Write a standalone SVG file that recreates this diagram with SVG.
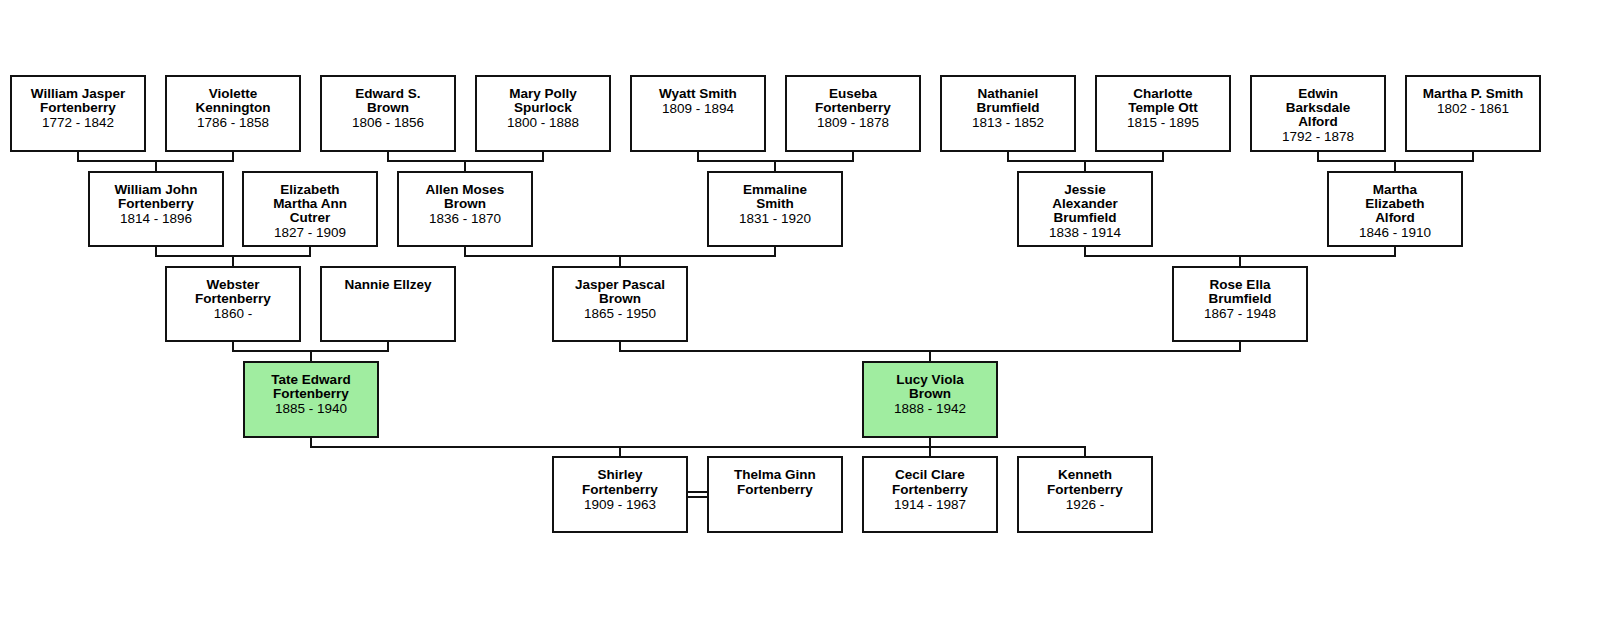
<svg xmlns="http://www.w3.org/2000/svg" width="1600" height="641" viewBox="0 0 1600 641">
<style>
rect{fill:#fff;stroke:#111;stroke-width:2}
.g rect{fill:#a0eda0}
text{font-family:"Liberation Sans",Arial,sans-serif;font-size:13.5px;text-anchor:middle;fill:#000}
.b{font-weight:bold}
#c path{fill:none;stroke:#111;stroke-width:2}
</style>
<rect x="0" y="0" width="1600" height="641" style="fill:#fff;stroke:none"/>
<g id="c">
<path d="M78 151V161H233V151M156 161V172"/>
<path d="M388 151V161H543V151M465 161V172"/>
<path d="M698 151V161H853V151M775 161V172"/>
<path d="M1008 151V161H1163V151M1085 161V172"/>
<path d="M1318 151V161H1473V151M1395 161V172"/>
<path d="M156 246V256H310V246M233 256V267"/>
<path d="M465 246V256H775V246M620 256V267"/>
<path d="M1085 246V256H1395V246M1240 256V267"/>
<path d="M233 341V351H388V341M311 351V362"/>
<path d="M620 341V351H1240V341M930 351V362"/>
<path d="M311 437V447H1085V457M620 447V457M930 437V457"/>
<path d="M687 492H708M687 497H708M687 492V497"/>
</g>
<g id="n1"><rect x="11" y="76" width="134" height="75"/><text x="78" y="98" class="b">William Jasper</text><text x="78" y="112" class="b">Fortenberry</text><text x="78" y="127">1772 - 1842</text></g>
<g id="n2"><rect x="166" y="76" width="134" height="75"/><text x="233" y="98" class="b">Violette</text><text x="233" y="112" class="b">Kennington</text><text x="233" y="127">1786 - 1858</text></g>
<g id="n3"><rect x="321" y="76" width="134" height="75"/><text x="388" y="98" class="b">Edward S.</text><text x="388" y="112" class="b">Brown</text><text x="388" y="127">1806 - 1856</text></g>
<g id="n4"><rect x="476" y="76" width="134" height="75"/><text x="543" y="98" class="b">Mary Polly</text><text x="543" y="112" class="b">Spurlock</text><text x="543" y="127">1800 - 1888</text></g>
<g id="n5"><rect x="631" y="76" width="134" height="75"/><text x="698" y="98" class="b">Wyatt Smith</text><text x="698" y="113">1809 - 1894</text></g>
<g id="n6"><rect x="786" y="76" width="134" height="75"/><text x="853" y="98" class="b">Euseba</text><text x="853" y="112" class="b">Fortenberry</text><text x="853" y="127">1809 - 1878</text></g>
<g id="n7"><rect x="941" y="76" width="134" height="75"/><text x="1008" y="98" class="b">Nathaniel</text><text x="1008" y="112" class="b">Brumfield</text><text x="1008" y="127">1813 - 1852</text></g>
<g id="n8"><rect x="1096" y="76" width="134" height="75"/><text x="1163" y="98" class="b">Charlotte</text><text x="1163" y="112" class="b">Temple Ott</text><text x="1163" y="127">1815 - 1895</text></g>
<g id="n9"><rect x="1251" y="76" width="134" height="75"/><text x="1318" y="98" class="b">Edwin</text><text x="1318" y="112" class="b">Barksdale</text><text x="1318" y="126" class="b">Alford</text><text x="1318" y="141">1792 - 1878</text></g>
<g id="n10"><rect x="1406" y="76" width="134" height="75"/><text x="1473" y="98" class="b">Martha P. Smith</text><text x="1473" y="113">1802 - 1861</text></g>
<g id="n11"><rect x="89" y="172" width="134" height="74"/><text x="156" y="194" class="b">William John</text><text x="156" y="208" class="b">Fortenberry</text><text x="156" y="223">1814 - 1896</text></g>
<g id="n12"><rect x="243" y="172" width="134" height="74"/><text x="310" y="194" class="b">Elizabeth</text><text x="310" y="208" class="b">Martha Ann</text><text x="310" y="222" class="b">Cutrer</text><text x="310" y="237">1827 - 1909</text></g>
<g id="n13"><rect x="398" y="172" width="134" height="74"/><text x="465" y="194" class="b">Allen Moses</text><text x="465" y="208" class="b">Brown</text><text x="465" y="223">1836 - 1870</text></g>
<g id="n14"><rect x="708" y="172" width="134" height="74"/><text x="775" y="194" class="b">Emmaline</text><text x="775" y="208" class="b">Smith</text><text x="775" y="223">1831 - 1920</text></g>
<g id="n15"><rect x="1018" y="172" width="134" height="74"/><text x="1085" y="194" class="b">Jessie</text><text x="1085" y="208" class="b">Alexander</text><text x="1085" y="222" class="b">Brumfield</text><text x="1085" y="237">1838 - 1914</text></g>
<g id="n16"><rect x="1328" y="172" width="134" height="74"/><text x="1395" y="194" class="b">Martha</text><text x="1395" y="208" class="b">Elizabeth</text><text x="1395" y="222" class="b">Alford</text><text x="1395" y="237">1846 - 1910</text></g>
<g id="n17"><rect x="166" y="267" width="134" height="74"/><text x="233" y="289" class="b">Webster</text><text x="233" y="303" class="b">Fortenberry</text><text x="233" y="318">1860 -</text></g>
<g id="n18"><rect x="321" y="267" width="134" height="74"/><text x="388" y="289" class="b">Nannie Ellzey</text></g>
<g id="n19"><rect x="553" y="267" width="134" height="74"/><text x="620" y="289" class="b">Jasper Pascal</text><text x="620" y="303" class="b">Brown</text><text x="620" y="318">1865 - 1950</text></g>
<g id="n20"><rect x="1173" y="267" width="134" height="74"/><text x="1240" y="289" class="b">Rose Ella</text><text x="1240" y="303" class="b">Brumfield</text><text x="1240" y="318">1867 - 1948</text></g>
<g id="n21" class="g"><rect x="244" y="362" width="134" height="75"/><text x="311" y="384" class="b">Tate Edward</text><text x="311" y="398" class="b">Fortenberry</text><text x="311" y="413">1885 - 1940</text></g>
<g id="n22" class="g"><rect x="863" y="362" width="134" height="75"/><text x="930" y="384" class="b">Lucy Viola</text><text x="930" y="398" class="b">Brown</text><text x="930" y="413">1888 - 1942</text></g>
<g id="n23"><rect x="553" y="457" width="134" height="75"/><text x="620" y="479" class="b">Shirley</text><text x="620" y="494" class="b">Fortenberry</text><text x="620" y="509">1909 - 1963</text></g>
<g id="n24"><rect x="708" y="457" width="134" height="75"/><text x="775" y="479" class="b">Thelma Ginn</text><text x="775" y="494" class="b">Fortenberry</text></g>
<g id="n25"><rect x="863" y="457" width="134" height="75"/><text x="930" y="479" class="b">Cecil Clare</text><text x="930" y="494" class="b">Fortenberry</text><text x="930" y="509">1914 - 1987</text></g>
<g id="n26"><rect x="1018" y="457" width="134" height="75"/><text x="1085" y="479" class="b">Kenneth</text><text x="1085" y="494" class="b">Fortenberry</text><text x="1085" y="509">1926 -</text></g>
</svg>
